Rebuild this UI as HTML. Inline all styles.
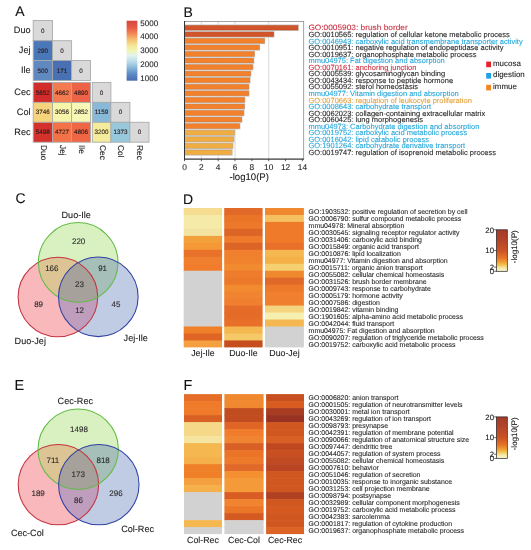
<!DOCTYPE html>
<html><head><meta charset="utf-8"><style>
html,body{margin:0;padding:0;background:#fff;}
body{width:531px;height:550px;overflow:hidden;}
svg{display:block;font-family:"Liberation Sans", sans-serif;text-rendering:geometricPrecision;will-change:transform;}
text{stroke-width:0.1px;}
</style></head><body>
<svg width="531" height="550" viewBox="0 0 531 550">
<rect width="531" height="550" fill="#fff"/>
<g>
<text transform="translate(15.30,16.40) skewX(0.06)" font-size="14" fill="#111" stroke="#111" text-anchor="start" >A</text>
<text transform="translate(183.50,17.20) skewX(0.06)" font-size="14" fill="#111" stroke="#111" text-anchor="start" >B</text>
<text transform="translate(15.60,203.20) skewX(0.06)" font-size="14" fill="#111" stroke="#111" text-anchor="start" >C</text>
<text transform="translate(182.90,203.60) skewX(0.06)" font-size="14" fill="#111" stroke="#111" text-anchor="start" >D</text>
<text transform="translate(14.60,389.90) skewX(0.06)" font-size="14.4" fill="#111" stroke="#111" text-anchor="start" >E</text>
<text transform="translate(183.60,389.80) skewX(0.06)" font-size="14.4" fill="#111" stroke="#111" text-anchor="start" >F</text>
<rect x="33.20" y="20.50" width="19.30" height="20.20" fill="#d9d9d9" stroke="#ababab" stroke-width="0.9"/>
<text transform="translate(42.85,32.70) skewX(0.06)" font-size="6.3" fill="#2a1a1a" stroke="#2a1a1a" text-anchor="middle" >0</text>
<rect x="33.20" y="40.70" width="19.30" height="19.80" fill="#4a77b8" stroke="#ababab" stroke-width="0.9"/>
<text transform="translate(42.85,52.70) skewX(0.06)" font-size="6.3" fill="#2a1a1a" stroke="#2a1a1a" text-anchor="middle" >290</text>
<rect x="52.50" y="40.70" width="19.10" height="19.80" fill="#d9d9d9" stroke="#ababab" stroke-width="0.9"/>
<text transform="translate(62.05,52.70) skewX(0.06)" font-size="6.3" fill="#2a1a1a" stroke="#2a1a1a" text-anchor="middle" >0</text>
<rect x="33.20" y="60.50" width="19.30" height="20.00" fill="#6089c2" stroke="#ababab" stroke-width="0.9"/>
<text transform="translate(42.85,72.60) skewX(0.06)" font-size="6.3" fill="#2a1a1a" stroke="#2a1a1a" text-anchor="middle" >500</text>
<rect x="52.50" y="60.50" width="19.10" height="20.00" fill="#4a70b4" stroke="#ababab" stroke-width="0.9"/>
<text transform="translate(62.05,72.60) skewX(0.06)" font-size="6.3" fill="#2a1a1a" stroke="#2a1a1a" text-anchor="middle" >171</text>
<rect x="71.60" y="60.50" width="18.90" height="20.00" fill="#d9d9d9" stroke="#ababab" stroke-width="0.9"/>
<text transform="translate(81.05,72.60) skewX(0.06)" font-size="6.3" fill="#2a1a1a" stroke="#2a1a1a" text-anchor="middle" >0</text>
<rect x="33.20" y="82.50" width="19.30" height="19.90" fill="#d22c2b" stroke="#ababab" stroke-width="0.9"/>
<text transform="translate(42.85,94.55) skewX(0.06)" font-size="6.3" fill="#2a1a1a" stroke="#2a1a1a" text-anchor="middle" >5652</text>
<rect x="52.50" y="82.50" width="19.10" height="19.90" fill="#f47a4f" stroke="#ababab" stroke-width="0.9"/>
<text transform="translate(62.05,94.55) skewX(0.06)" font-size="6.3" fill="#2a1a1a" stroke="#2a1a1a" text-anchor="middle" >4662</text>
<rect x="71.60" y="82.50" width="18.90" height="19.90" fill="#ee6247" stroke="#ababab" stroke-width="0.9"/>
<text transform="translate(81.05,94.55) skewX(0.06)" font-size="6.3" fill="#2a1a1a" stroke="#2a1a1a" text-anchor="middle" >4890</text>
<rect x="92.30" y="82.50" width="18.60" height="19.90" fill="#d9d9d9" stroke="#ababab" stroke-width="0.9"/>
<text transform="translate(101.60,94.55) skewX(0.06)" font-size="6.3" fill="#2a1a1a" stroke="#2a1a1a" text-anchor="middle" >0</text>
<rect x="33.20" y="102.40" width="19.30" height="19.90" fill="#f6d47c" stroke="#ababab" stroke-width="0.9"/>
<text transform="translate(42.85,114.45) skewX(0.06)" font-size="6.3" fill="#2a1a1a" stroke="#2a1a1a" text-anchor="middle" >3746</text>
<rect x="52.50" y="102.40" width="19.10" height="19.90" fill="#f6f5aa" stroke="#ababab" stroke-width="0.9"/>
<text transform="translate(62.05,114.45) skewX(0.06)" font-size="6.3" fill="#2a1a1a" stroke="#2a1a1a" text-anchor="middle" >3056</text>
<rect x="71.60" y="102.40" width="18.90" height="19.90" fill="#f7f7b6" stroke="#ababab" stroke-width="0.9"/>
<text transform="translate(81.05,114.45) skewX(0.06)" font-size="6.3" fill="#2a1a1a" stroke="#2a1a1a" text-anchor="middle" >2852</text>
<rect x="92.30" y="102.40" width="18.60" height="19.90" fill="#88b9d8" stroke="#ababab" stroke-width="0.9"/>
<text transform="translate(101.60,114.45) skewX(0.06)" font-size="6.3" fill="#2a1a1a" stroke="#2a1a1a" text-anchor="middle" >1159</text>
<rect x="110.90" y="102.40" width="19.00" height="19.90" fill="#d9d9d9" stroke="#ababab" stroke-width="0.9"/>
<text transform="translate(120.40,114.45) skewX(0.06)" font-size="6.3" fill="#2a1a1a" stroke="#2a1a1a" text-anchor="middle" >0</text>
<rect x="33.20" y="122.30" width="19.30" height="19.90" fill="#d4302c" stroke="#ababab" stroke-width="0.9"/>
<text transform="translate(42.85,134.35) skewX(0.06)" font-size="6.3" fill="#2a1a1a" stroke="#2a1a1a" text-anchor="middle" >5498</text>
<rect x="52.50" y="122.30" width="19.10" height="19.90" fill="#f47248" stroke="#ababab" stroke-width="0.9"/>
<text transform="translate(62.05,134.35) skewX(0.06)" font-size="6.3" fill="#2a1a1a" stroke="#2a1a1a" text-anchor="middle" >4727</text>
<rect x="71.60" y="122.30" width="18.90" height="19.90" fill="#f06644" stroke="#ababab" stroke-width="0.9"/>
<text transform="translate(81.05,134.35) skewX(0.06)" font-size="6.3" fill="#2a1a1a" stroke="#2a1a1a" text-anchor="middle" >4806</text>
<rect x="92.30" y="122.30" width="18.60" height="19.90" fill="#f4ec9a" stroke="#ababab" stroke-width="0.9"/>
<text transform="translate(101.60,134.35) skewX(0.06)" font-size="6.3" fill="#2a1a1a" stroke="#2a1a1a" text-anchor="middle" >3200</text>
<rect x="110.90" y="122.30" width="19.00" height="19.90" fill="#98c8dc" stroke="#ababab" stroke-width="0.9"/>
<text transform="translate(120.40,134.35) skewX(0.06)" font-size="6.3" fill="#2a1a1a" stroke="#2a1a1a" text-anchor="middle" >1373</text>
<rect x="129.90" y="122.30" width="19.10" height="19.90" fill="#d9d9d9" stroke="#ababab" stroke-width="0.9"/>
<text transform="translate(139.45,134.35) skewX(0.06)" font-size="6.3" fill="#2a1a1a" stroke="#2a1a1a" text-anchor="middle" >0</text>
<text transform="translate(30.60,33.40) skewX(0.06)" font-size="9.2" fill="#222" stroke="#222" text-anchor="end" >Duo</text>
<text transform="translate(30.60,53.40) skewX(0.06)" font-size="9.2" fill="#222" stroke="#222" text-anchor="end" >Jej</text>
<text transform="translate(30.60,73.30) skewX(0.06)" font-size="9.2" fill="#222" stroke="#222" text-anchor="end" >Ile</text>
<text transform="translate(30.60,95.25) skewX(0.06)" font-size="9.2" fill="#222" stroke="#222" text-anchor="end" >Cec</text>
<text transform="translate(30.60,115.15) skewX(0.06)" font-size="9.2" fill="#222" stroke="#222" text-anchor="end" >Col</text>
<text transform="translate(30.60,135.05) skewX(0.06)" font-size="9.2" fill="#222" stroke="#222" text-anchor="end" >Rec</text>
<text transform="translate(40.75,145.0) rotate(90) skewX(0.06)" x="0" y="0" font-size="8.4" fill="#222" stroke="#222">Duo</text>
<text transform="translate(59.95,145.0) rotate(90) skewX(0.06)" x="0" y="0" font-size="8.4" fill="#222" stroke="#222">Jej</text>
<text transform="translate(78.95,145.0) rotate(90) skewX(0.06)" x="0" y="0" font-size="8.4" fill="#222" stroke="#222">Ile</text>
<text transform="translate(99.50,145.0) rotate(90) skewX(0.06)" x="0" y="0" font-size="8.4" fill="#222" stroke="#222">Cec</text>
<text transform="translate(118.30,145.0) rotate(90) skewX(0.06)" x="0" y="0" font-size="8.4" fill="#222" stroke="#222">Col</text>
<text transform="translate(137.35,145.0) rotate(90) skewX(0.06)" x="0" y="0" font-size="8.4" fill="#222" stroke="#222">Rec</text>
<defs><linearGradient id="rdylbu" x1="0" y1="0" x2="0" y2="1">
<stop offset="0" stop-color="#d4463f"/><stop offset="0.12" stop-color="#e65c46"/>
<stop offset="0.22" stop-color="#f48a58"/><stop offset="0.32" stop-color="#f6c272"/>
<stop offset="0.42" stop-color="#f3e898"/><stop offset="0.5" stop-color="#f2f4b2"/>
<stop offset="0.58" stop-color="#e2f2ee"/><stop offset="0.68" stop-color="#bcdcec"/>
<stop offset="0.78" stop-color="#8ab8d8"/><stop offset="0.9" stop-color="#5a86c2"/>
<stop offset="1" stop-color="#4a6cb0"/></linearGradient></defs>
<rect x="126.60" y="20.70" width="10.80" height="60.00" fill="url(#rdylbu)" />
<text transform="translate(140.30,25.70) skewX(0.06)" font-size="8.0" fill="#222" stroke="#222" text-anchor="start" >5000</text>
<text transform="translate(140.30,39.40) skewX(0.06)" font-size="8.0" fill="#222" stroke="#222" text-anchor="start" >4000</text>
<text transform="translate(140.30,53.10) skewX(0.06)" font-size="8.0" fill="#222" stroke="#222" text-anchor="start" >3000</text>
<text transform="translate(140.30,66.80) skewX(0.06)" font-size="8.0" fill="#222" stroke="#222" text-anchor="start" >2000</text>
<text transform="translate(140.30,80.50) skewX(0.06)" font-size="8.0" fill="#222" stroke="#222" text-anchor="start" >1000</text>
<line x1="201.34" y1="21.4" x2="201.34" y2="159" stroke="#cfcfcf" stroke-width="0.8"/>
<line x1="218.18" y1="21.4" x2="218.18" y2="159" stroke="#cfcfcf" stroke-width="0.8"/>
<line x1="235.02" y1="21.4" x2="235.02" y2="159" stroke="#cfcfcf" stroke-width="0.8"/>
<line x1="268.70" y1="21.4" x2="268.70" y2="159" stroke="#cfcfcf" stroke-width="0.8"/>
<rect x="184.50" y="24.50" width="114.27" height="6.50" fill="#cac6c3" />
<rect x="184.50" y="25.50" width="113.47" height="4.50" fill="#d2542a" stroke="#b94620" stroke-width="0.4"/>
<rect x="184.50" y="31.06" width="90.02" height="6.50" fill="#cac6c3" />
<rect x="184.50" y="32.06" width="89.22" height="4.50" fill="#d2542a" stroke="#b94620" stroke-width="0.4"/>
<rect x="184.50" y="37.62" width="80.59" height="6.50" fill="#cac6c3" />
<rect x="184.50" y="38.62" width="79.79" height="4.50" fill="#f3812c" stroke="#d86d22" stroke-width="0.4"/>
<rect x="184.50" y="44.18" width="75.54" height="6.50" fill="#cac6c3" />
<rect x="184.50" y="45.18" width="74.74" height="4.50" fill="#f3812c" stroke="#d86d22" stroke-width="0.4"/>
<rect x="184.50" y="50.74" width="70.49" height="6.50" fill="#cac6c3" />
<rect x="184.50" y="51.74" width="69.69" height="4.50" fill="#f3812c" stroke="#d86d22" stroke-width="0.4"/>
<rect x="184.50" y="57.30" width="69.81" height="6.50" fill="#cac6c3" />
<rect x="184.50" y="58.30" width="69.01" height="4.50" fill="#f3812c" stroke="#d86d22" stroke-width="0.4"/>
<rect x="184.50" y="63.86" width="68.97" height="6.50" fill="#cac6c3" />
<rect x="184.50" y="64.86" width="68.17" height="4.50" fill="#f3812c" stroke="#d86d22" stroke-width="0.4"/>
<rect x="184.50" y="70.42" width="66.87" height="6.50" fill="#cac6c3" />
<rect x="184.50" y="71.42" width="66.07" height="4.50" fill="#f3812c" stroke="#d86d22" stroke-width="0.4"/>
<rect x="184.50" y="76.98" width="66.11" height="6.50" fill="#cac6c3" />
<rect x="184.50" y="77.98" width="65.31" height="4.50" fill="#f3812c" stroke="#d86d22" stroke-width="0.4"/>
<rect x="184.50" y="83.54" width="65.01" height="6.50" fill="#cac6c3" />
<rect x="184.50" y="84.54" width="64.21" height="4.50" fill="#f3812c" stroke="#d86d22" stroke-width="0.4"/>
<rect x="184.50" y="90.10" width="65.01" height="6.50" fill="#cac6c3" />
<rect x="184.50" y="91.10" width="64.21" height="4.50" fill="#f3812c" stroke="#d86d22" stroke-width="0.4"/>
<rect x="184.50" y="96.66" width="60.80" height="6.50" fill="#cac6c3" />
<rect x="184.50" y="97.66" width="60.00" height="4.50" fill="#f3812c" stroke="#d86d22" stroke-width="0.4"/>
<rect x="184.50" y="103.22" width="60.55" height="6.50" fill="#cac6c3" />
<rect x="184.50" y="104.22" width="59.75" height="4.50" fill="#f3812c" stroke="#d86d22" stroke-width="0.4"/>
<rect x="184.50" y="109.78" width="59.96" height="6.50" fill="#cac6c3" />
<rect x="184.50" y="110.78" width="59.16" height="4.50" fill="#f3812c" stroke="#d86d22" stroke-width="0.4"/>
<rect x="184.50" y="116.34" width="57.86" height="6.50" fill="#cac6c3" />
<rect x="184.50" y="117.34" width="57.06" height="4.50" fill="#f3812c" stroke="#d86d22" stroke-width="0.4"/>
<rect x="184.50" y="122.90" width="55.92" height="6.50" fill="#cac6c3" />
<rect x="184.50" y="123.90" width="55.12" height="4.50" fill="#f3812c" stroke="#d86d22" stroke-width="0.4"/>
<rect x="184.50" y="129.46" width="50.53" height="6.50" fill="#cac6c3" />
<rect x="184.50" y="130.46" width="49.73" height="4.50" fill="#f0ad42" stroke="#d8973a" stroke-width="0.4"/>
<rect x="184.50" y="136.02" width="50.03" height="6.50" fill="#cac6c3" />
<rect x="184.50" y="137.02" width="49.23" height="4.50" fill="#f0ad42" stroke="#d8973a" stroke-width="0.4"/>
<rect x="184.50" y="142.58" width="48.93" height="6.50" fill="#cac6c3" />
<rect x="184.50" y="143.58" width="48.13" height="4.50" fill="#f0ad42" stroke="#d8973a" stroke-width="0.4"/>
<rect x="184.50" y="149.14" width="48.17" height="6.50" fill="#cac6c3" />
<rect x="184.50" y="150.14" width="47.37" height="4.50" fill="#f0ad42" stroke="#d8973a" stroke-width="0.4"/>
<rect x="184.5" y="21.4" width="119.2" height="137.7" fill="none" stroke="#8a8a8a" stroke-width="0.8"/>
<line x1="184.5" y1="21" x2="184.5" y2="159.6" stroke="#333" stroke-width="1"/>
<line x1="184" y1="159.1" x2="304" y2="159.1" stroke="#333" stroke-width="1"/>
<line x1="184.50" y1="159.1" x2="184.50" y2="161.2" stroke="#333" stroke-width="0.8"/>
<text transform="translate(184.50,169.80) skewX(0.06)" font-size="8.3" fill="#222" stroke="#222" text-anchor="middle" >0</text>
<line x1="201.34" y1="159.1" x2="201.34" y2="161.2" stroke="#333" stroke-width="0.8"/>
<text transform="translate(201.34,169.80) skewX(0.06)" font-size="8.3" fill="#222" stroke="#222" text-anchor="middle" >2</text>
<line x1="218.18" y1="159.1" x2="218.18" y2="161.2" stroke="#333" stroke-width="0.8"/>
<text transform="translate(218.18,169.80) skewX(0.06)" font-size="8.3" fill="#222" stroke="#222" text-anchor="middle" >4</text>
<line x1="235.02" y1="159.1" x2="235.02" y2="161.2" stroke="#333" stroke-width="0.8"/>
<text transform="translate(235.02,169.80) skewX(0.06)" font-size="8.3" fill="#222" stroke="#222" text-anchor="middle" >6</text>
<line x1="251.86" y1="159.1" x2="251.86" y2="161.2" stroke="#333" stroke-width="0.8"/>
<text transform="translate(251.86,169.80) skewX(0.06)" font-size="8.3" fill="#222" stroke="#222" text-anchor="middle" >8</text>
<line x1="268.70" y1="159.1" x2="268.70" y2="161.2" stroke="#333" stroke-width="0.8"/>
<text transform="translate(268.70,169.80) skewX(0.06)" font-size="8.3" fill="#222" stroke="#222" text-anchor="middle" >10</text>
<line x1="285.54" y1="159.1" x2="285.54" y2="161.2" stroke="#333" stroke-width="0.8"/>
<text transform="translate(285.54,169.80) skewX(0.06)" font-size="8.3" fill="#222" stroke="#222" text-anchor="middle" >12</text>
<line x1="302.38" y1="159.1" x2="302.38" y2="161.2" stroke="#333" stroke-width="0.8"/>
<text transform="translate(302.38,169.80) skewX(0.06)" font-size="8.3" fill="#222" stroke="#222" text-anchor="middle" >14</text>
<text transform="translate(249.20,180.30) skewX(0.06)" font-size="9.6" fill="#222" stroke="#222" text-anchor="middle" >-log10(P)</text>
<text transform="translate(308.4,30.0) scale(1.065,1) skewX(0.06)" font-size="7.8" fill="#cc3344" stroke="#cc3344">GO:0005903: brush border</text>
<text transform="translate(308.40,37.05) skewX(0.06)" font-size="7.5" fill="#2a2a2a" stroke="#2a2a2a" text-anchor="start" >GO:0010565: regulation of cellular ketone metabolic process</text>
<text transform="translate(308.40,43.60) skewX(0.06)" font-size="7.5" fill="#26a8dc" stroke="#26a8dc" text-anchor="start" >GO:0046943: carboxylic acid transmembrane transporter activity</text>
<text transform="translate(308.40,50.15) skewX(0.06)" font-size="7.5" fill="#2a2a2a" stroke="#2a2a2a" text-anchor="start" >GO:0010951: negative regulation of endopeptidase activity</text>
<text transform="translate(308.40,56.70) skewX(0.06)" font-size="7.5" fill="#2a2a2a" stroke="#2a2a2a" text-anchor="start" >GO:0019637: organophosphate metabolic process</text>
<text transform="translate(308.40,63.25) skewX(0.06)" font-size="7.5" fill="#26a8dc" stroke="#26a8dc" text-anchor="start" >mmu04975: Fat digestion and absorption</text>
<text transform="translate(308.40,69.80) skewX(0.06)" font-size="7.5" fill="#cc3344" stroke="#cc3344" text-anchor="start" >GO:0070161: anchoring junction</text>
<text transform="translate(308.40,76.35) skewX(0.06)" font-size="7.5" fill="#2a2a2a" stroke="#2a2a2a" text-anchor="start" >GO:0005539: glycosaminoglycan binding</text>
<text transform="translate(308.40,82.90) skewX(0.06)" font-size="7.5" fill="#2a2a2a" stroke="#2a2a2a" text-anchor="start" >GO:0043434: response to peptide hormone</text>
<text transform="translate(308.40,89.45) skewX(0.06)" font-size="7.5" fill="#2a2a2a" stroke="#2a2a2a" text-anchor="start" >GO:0055092: sterol homeostasis</text>
<text transform="translate(308.40,96.00) skewX(0.06)" font-size="7.5" fill="#26a8dc" stroke="#26a8dc" text-anchor="start" >mmu04977: Vitamin digestion and absorption</text>
<text transform="translate(308.40,102.55) skewX(0.06)" font-size="7.5" fill="#e3a443" stroke="#e3a443" text-anchor="start" >GO:0070663: regulation of leukocyte proliferation</text>
<text transform="translate(308.40,109.10) skewX(0.06)" font-size="7.5" fill="#26a8dc" stroke="#26a8dc" text-anchor="start" >GO:0008643: carbohydrate transport</text>
<text transform="translate(308.40,115.65) skewX(0.06)" font-size="7.5" fill="#2a2a2a" stroke="#2a2a2a" text-anchor="start" >GO:0062023: collagen-containing extracellular matrix</text>
<text transform="translate(308.40,122.20) skewX(0.06)" font-size="7.5" fill="#2a2a2a" stroke="#2a2a2a" text-anchor="start" >GO:0060425: lung morphogenesis</text>
<text transform="translate(308.40,128.75) skewX(0.06)" font-size="7.5" fill="#26a8dc" stroke="#26a8dc" text-anchor="start" >mmu04973: Carbohydrate digestion and absorption</text>
<text transform="translate(308.40,135.30) skewX(0.06)" font-size="7.5" fill="#26a8dc" stroke="#26a8dc" text-anchor="start" >GO:0019752: carboxylic acid metabolic process</text>
<text transform="translate(308.40,141.85) skewX(0.06)" font-size="7.5" fill="#26a8dc" stroke="#26a8dc" text-anchor="start" >GO:0016042: lipid catabolic process</text>
<text transform="translate(308.40,148.40) skewX(0.06)" font-size="7.5" fill="#26a8dc" stroke="#26a8dc" text-anchor="start" >GO:1901264: carbohydrate derivative transport</text>
<text transform="translate(308.40,154.95) skewX(0.06)" font-size="7.5" fill="#2a2a2a" stroke="#2a2a2a" text-anchor="start" >GO:0019747: regulation of isoprenoid metabolic process</text>
<rect x="486.20" y="61.60" width="4.80" height="5.60" fill="#e8202a" />
<text transform="translate(493.00,65.90) skewX(0.06)" font-size="7.95" fill="#222" stroke="#222" text-anchor="start" >mucosa</text>
<rect x="486.20" y="73.00" width="4.80" height="5.60" fill="#1ba1e6" />
<text transform="translate(493.00,77.00) skewX(0.06)" font-size="7.95" fill="#222" stroke="#222" text-anchor="start" >digestion</text>
<rect x="486.20" y="84.80" width="4.80" height="5.60" fill="#f5841f" />
<text transform="translate(493.00,89.00) skewX(0.06)" font-size="7.95" fill="#222" stroke="#222" text-anchor="start" >immue</text>
<defs>
<clipPath id="ccr"><circle cx="57.9" cy="297.0" r="39.8"/></clipPath>
<clipPath id="ccg"><circle cx="78.2" cy="262.4" r="39.8"/></clipPath>
<clipPath id="ccrg" clip-path="url(#ccr)"><circle cx="78.2" cy="262.4" r="39.8"/></clipPath>
</defs>
<circle cx="57.9" cy="297.0" r="39.8" fill="#f8b8bc"/>
<circle cx="78.2" cy="262.4" r="39.8" fill="#d9f0c0"/>
<circle cx="98.3" cy="296.8" r="39.8" fill="#c0cbe4"/>
<circle cx="78.2" cy="262.4" r="39.8" fill="#dcc494" clip-path="url(#ccr)"/>
<circle cx="98.3" cy="296.8" r="39.8" fill="#a6bfb9" clip-path="url(#ccg)"/>
<circle cx="98.3" cy="296.8" r="39.8" fill="#bf9dbd" clip-path="url(#ccr)"/>
<circle cx="98.3" cy="296.8" r="39.8" fill="#a6a19b" clip-path="url(#ccrg)"/>
<circle cx="57.9" cy="297.0" r="39.8" fill="none" stroke="#c2343f" stroke-width="1.05"/>
<circle cx="78.2" cy="262.4" r="39.8" fill="none" stroke="#62bc44" stroke-width="1.05"/>
<circle cx="98.3" cy="296.8" r="39.8" fill="none" stroke="#3040a4" stroke-width="1.05"/>
<text transform="translate(76.20,217.90) skewX(0.06)" font-size="9.1" fill="#222" stroke="#222" text-anchor="middle" >Duo-Ile</text>
<text transform="translate(14.60,344.00) skewX(0.06)" font-size="9.1" fill="#222" stroke="#222" text-anchor="start" >Duo-Jej</text>
<text transform="translate(123.60,341.00) skewX(0.06)" font-size="9.1" fill="#222" stroke="#222" text-anchor="start" >Jej-Ile</text>
<text transform="translate(78.60,243.70) skewX(0.06)" font-size="8.0" fill="#2a2a2a" stroke="#2a2a2a" text-anchor="middle" >220</text>
<text transform="translate(51.80,271.20) skewX(0.06)" font-size="8.0" fill="#2a2a2a" stroke="#2a2a2a" text-anchor="middle" >166</text>
<text transform="translate(102.60,271.20) skewX(0.06)" font-size="8.0" fill="#2a2a2a" stroke="#2a2a2a" text-anchor="middle" >91</text>
<text transform="translate(79.40,287.00) skewX(0.06)" font-size="8.0" fill="#2a2a2a" stroke="#2a2a2a" text-anchor="middle" >23</text>
<text transform="translate(38.60,307.00) skewX(0.06)" font-size="8.0" fill="#2a2a2a" stroke="#2a2a2a" text-anchor="middle" >89</text>
<text transform="translate(115.90,307.00) skewX(0.06)" font-size="8.0" fill="#2a2a2a" stroke="#2a2a2a" text-anchor="middle" >45</text>
<text transform="translate(79.60,312.90) skewX(0.06)" font-size="8.0" fill="#2a2a2a" stroke="#2a2a2a" text-anchor="middle" >12</text>
<defs>
<clipPath id="ecr"><circle cx="58.4" cy="484.6" r="40.2"/></clipPath>
<clipPath id="ecg"><circle cx="78.2" cy="449.3" r="40.2"/></clipPath>
<clipPath id="ecrg" clip-path="url(#ecr)"><circle cx="78.2" cy="449.3" r="40.2"/></clipPath>
</defs>
<circle cx="58.4" cy="484.6" r="40.2" fill="#f8b8bc"/>
<circle cx="78.2" cy="449.3" r="40.2" fill="#d9f0c0"/>
<circle cx="98.8" cy="484.6" r="40.2" fill="#c0cbe4"/>
<circle cx="78.2" cy="449.3" r="40.2" fill="#dcc494" clip-path="url(#ecr)"/>
<circle cx="98.8" cy="484.6" r="40.2" fill="#a6bfb9" clip-path="url(#ecg)"/>
<circle cx="98.8" cy="484.6" r="40.2" fill="#bf9dbd" clip-path="url(#ecr)"/>
<circle cx="98.8" cy="484.6" r="40.2" fill="#a6a19b" clip-path="url(#ecrg)"/>
<circle cx="58.4" cy="484.6" r="40.2" fill="none" stroke="#c2343f" stroke-width="1.05"/>
<circle cx="78.2" cy="449.3" r="40.2" fill="none" stroke="#62bc44" stroke-width="1.05"/>
<circle cx="98.8" cy="484.6" r="40.2" fill="none" stroke="#3040a4" stroke-width="1.05"/>
<text transform="translate(75.30,404.10) skewX(0.06)" font-size="9.1" fill="#222" stroke="#222" text-anchor="middle" >Cec-Rec</text>
<text transform="translate(10.90,535.70) skewX(0.06)" font-size="9.1" fill="#222" stroke="#222" text-anchor="start" >Cec-Col</text>
<text transform="translate(121.20,532.40) skewX(0.06)" font-size="9.1" fill="#222" stroke="#222" text-anchor="start" >Col-Rec</text>
<text transform="translate(79.00,432.20) skewX(0.06)" font-size="8.0" fill="#2a2a2a" stroke="#2a2a2a" text-anchor="middle" >1498</text>
<text transform="translate(52.90,462.60) skewX(0.06)" font-size="8.0" fill="#2a2a2a" stroke="#2a2a2a" text-anchor="middle" >711</text>
<text transform="translate(103.10,462.60) skewX(0.06)" font-size="8.0" fill="#2a2a2a" stroke="#2a2a2a" text-anchor="middle" >818</text>
<text transform="translate(78.20,477.00) skewX(0.06)" font-size="8.0" fill="#2a2a2a" stroke="#2a2a2a" text-anchor="middle" >173</text>
<text transform="translate(38.10,496.30) skewX(0.06)" font-size="8.0" fill="#2a2a2a" stroke="#2a2a2a" text-anchor="middle" >189</text>
<text transform="translate(116.00,496.30) skewX(0.06)" font-size="8.0" fill="#2a2a2a" stroke="#2a2a2a" text-anchor="middle" >296</text>
<text transform="translate(78.50,502.50) skewX(0.06)" font-size="8.0" fill="#2a2a2a" stroke="#2a2a2a" text-anchor="middle" >86</text>
<defs><linearGradient id="ylorrd" x1="0" y1="1" x2="0" y2="0">
<stop offset="0" stop-color="#f8f4d0"/><stop offset="0.08" stop-color="#f6eaa6"/>
<stop offset="0.15" stop-color="#f3c456"/><stop offset="0.22" stop-color="#f0a032"/>
<stop offset="0.32" stop-color="#e87428"/><stop offset="0.5" stop-color="#cc5224"/>
<stop offset="0.75" stop-color="#b4442a"/><stop offset="1" stop-color="#a43a28"/></linearGradient></defs>
<rect x="183.70" y="208.00" width="38.40" height="7.57" fill="#f5dc90" />
<rect x="183.70" y="214.97" width="38.40" height="7.57" fill="#f5eaa8" />
<rect x="183.70" y="221.94" width="38.40" height="7.57" fill="#f5eaa8" />
<rect x="183.70" y="228.91" width="38.40" height="7.57" fill="#f2e4a0" />
<rect x="183.70" y="235.88" width="38.40" height="7.57" fill="#f2a03c" />
<rect x="183.70" y="242.85" width="38.40" height="7.57" fill="#f59836" />
<rect x="183.70" y="249.82" width="38.40" height="7.57" fill="#e8722a" />
<rect x="183.70" y="256.79" width="38.40" height="7.57" fill="#f08030" />
<rect x="183.70" y="263.76" width="38.40" height="7.57" fill="#f07c2c" />
<rect x="183.70" y="270.73" width="38.40" height="7.57" fill="#d2d2d2" />
<rect x="183.70" y="277.70" width="38.40" height="7.57" fill="#d2d2d2" />
<rect x="183.70" y="284.67" width="38.40" height="7.57" fill="#d2d2d2" />
<rect x="183.70" y="291.64" width="38.40" height="7.57" fill="#d2d2d2" />
<rect x="183.70" y="298.61" width="38.40" height="7.57" fill="#d2d2d2" />
<rect x="183.70" y="305.58" width="38.40" height="7.57" fill="#d2d2d2" />
<rect x="183.70" y="312.55" width="38.40" height="7.57" fill="#d2d2d2" />
<rect x="183.70" y="319.52" width="38.40" height="7.57" fill="#d2d2d2" />
<rect x="183.70" y="326.49" width="38.40" height="7.57" fill="#f08028" />
<rect x="183.70" y="333.46" width="38.40" height="7.57" fill="#e06424" />
<rect x="183.70" y="340.43" width="38.40" height="6.97" fill="#f5a040" />
<rect x="224.20" y="208.00" width="38.40" height="7.57" fill="#e26a28" />
<rect x="224.20" y="214.97" width="38.40" height="7.57" fill="#ea7428" />
<rect x="224.20" y="221.94" width="38.40" height="7.57" fill="#ec782a" />
<rect x="224.20" y="228.91" width="38.40" height="7.57" fill="#dc6426" />
<rect x="224.20" y="235.88" width="38.40" height="7.57" fill="#ee7a2c" />
<rect x="224.20" y="242.85" width="38.40" height="7.57" fill="#dc6426" />
<rect x="224.20" y="249.82" width="38.40" height="7.57" fill="#f0802e" />
<rect x="224.20" y="256.79" width="38.40" height="7.57" fill="#f0822e" />
<rect x="224.20" y="263.76" width="38.40" height="7.57" fill="#f28a30" />
<rect x="224.20" y="270.73" width="38.40" height="7.57" fill="#ee7c2c" />
<rect x="224.20" y="277.70" width="38.40" height="7.57" fill="#ec782a" />
<rect x="224.20" y="284.67" width="38.40" height="7.57" fill="#f28a30" />
<rect x="224.20" y="291.64" width="38.40" height="7.57" fill="#f08430" />
<rect x="224.20" y="298.61" width="38.40" height="7.57" fill="#f08030" />
<rect x="224.20" y="305.58" width="38.40" height="7.57" fill="#e46c28" />
<rect x="224.20" y="312.55" width="38.40" height="7.57" fill="#e46c28" />
<rect x="224.20" y="319.52" width="38.40" height="7.57" fill="#e87028" />
<rect x="224.20" y="326.49" width="38.40" height="7.57" fill="#f5b850" />
<rect x="224.20" y="333.46" width="38.40" height="7.57" fill="#f5c868" />
<rect x="224.20" y="340.43" width="38.40" height="6.97" fill="#c64e1e" />
<rect x="265.00" y="208.00" width="38.90" height="7.57" fill="#f08830" />
<rect x="265.00" y="214.97" width="38.90" height="7.57" fill="#f5c060" />
<rect x="265.00" y="221.94" width="38.90" height="7.57" fill="#ee7a2a" />
<rect x="265.00" y="228.91" width="38.90" height="7.57" fill="#ee7a2a" />
<rect x="265.00" y="235.88" width="38.90" height="7.57" fill="#ee7a2a" />
<rect x="265.00" y="242.85" width="38.90" height="7.57" fill="#e87028" />
<rect x="265.00" y="249.82" width="38.90" height="7.57" fill="#f5b850" />
<rect x="265.00" y="256.79" width="38.90" height="7.57" fill="#f5b048" />
<rect x="265.00" y="263.76" width="38.90" height="7.57" fill="#f5d070" />
<rect x="265.00" y="270.73" width="38.90" height="7.57" fill="#f08830" />
<rect x="265.00" y="277.70" width="38.90" height="7.57" fill="#e06828" />
<rect x="265.00" y="284.67" width="38.90" height="7.57" fill="#ec7a2a" />
<rect x="265.00" y="291.64" width="38.90" height="7.57" fill="#f08030" />
<rect x="265.00" y="298.61" width="38.90" height="7.57" fill="#f08030" />
<rect x="265.00" y="305.58" width="38.90" height="7.57" fill="#f5d480" />
<rect x="265.00" y="312.55" width="38.90" height="7.57" fill="#f5f0b0" />
<rect x="265.00" y="319.52" width="38.90" height="7.57" fill="#f5b850" />
<rect x="265.00" y="326.49" width="38.90" height="7.57" fill="#d2d2d2" />
<rect x="265.00" y="333.46" width="38.90" height="7.57" fill="#d2d2d2" />
<rect x="265.00" y="340.43" width="38.90" height="6.97" fill="#d2d2d2" />
<text transform="translate(202.90,356.40) skewX(0.06)" font-size="8.8" fill="#222" stroke="#222" text-anchor="middle" >Jej-Ile</text>
<text transform="translate(243.40,356.40) skewX(0.06)" font-size="8.8" fill="#222" stroke="#222" text-anchor="middle" >Duo-Ile</text>
<text transform="translate(284.45,356.40) skewX(0.06)" font-size="8.8" fill="#222" stroke="#222" text-anchor="middle" >Duo-Jej</text>
<text transform="translate(308.60,213.80) skewX(0.06)" font-size="6.95" fill="#2a2a2a" stroke="#2a2a2a" text-anchor="start" >GO:1903532: positive regulation of secretion by cell</text>
<text transform="translate(308.60,220.83) skewX(0.06)" font-size="6.95" fill="#2a2a2a" stroke="#2a2a2a" text-anchor="start" >GO:0006790: sulfur compound metabolic process</text>
<text transform="translate(308.60,227.86) skewX(0.06)" font-size="6.95" fill="#2a2a2a" stroke="#2a2a2a" text-anchor="start" >mmu04978: Mineral absorption</text>
<text transform="translate(308.60,234.89) skewX(0.06)" font-size="6.95" fill="#2a2a2a" stroke="#2a2a2a" text-anchor="start" >GO:0030545: signaling receptor regulator activity</text>
<text transform="translate(308.60,241.92) skewX(0.06)" font-size="6.95" fill="#2a2a2a" stroke="#2a2a2a" text-anchor="start" >GO:0031406: carboxylic acid binding</text>
<text transform="translate(308.60,248.95) skewX(0.06)" font-size="6.95" fill="#2a2a2a" stroke="#2a2a2a" text-anchor="start" >GO:0015849: organic acid transport</text>
<text transform="translate(308.60,255.98) skewX(0.06)" font-size="6.95" fill="#2a2a2a" stroke="#2a2a2a" text-anchor="start" >GO:0010876: lipid localization</text>
<text transform="translate(308.60,263.01) skewX(0.06)" font-size="6.95" fill="#2a2a2a" stroke="#2a2a2a" text-anchor="start" >mmu04977: Vitamin digestion and absorption</text>
<text transform="translate(308.60,270.04) skewX(0.06)" font-size="6.95" fill="#2a2a2a" stroke="#2a2a2a" text-anchor="start" >GO:0015711: organic anion transport</text>
<text transform="translate(308.60,277.07) skewX(0.06)" font-size="6.95" fill="#2a2a2a" stroke="#2a2a2a" text-anchor="start" >GO:0055082: cellular chemical homeostasis</text>
<text transform="translate(308.60,284.10) skewX(0.06)" font-size="6.95" fill="#2a2a2a" stroke="#2a2a2a" text-anchor="start" >GO:0031526: brush border membrane</text>
<text transform="translate(308.60,291.13) skewX(0.06)" font-size="6.95" fill="#2a2a2a" stroke="#2a2a2a" text-anchor="start" >GO:0009743: response to carbohydrate</text>
<text transform="translate(308.60,298.16) skewX(0.06)" font-size="6.95" fill="#2a2a2a" stroke="#2a2a2a" text-anchor="start" >GO:0005179: hormone activity</text>
<text transform="translate(308.60,305.19) skewX(0.06)" font-size="6.95" fill="#2a2a2a" stroke="#2a2a2a" text-anchor="start" >GO:0007586: digestion</text>
<text transform="translate(308.60,312.22) skewX(0.06)" font-size="6.95" fill="#2a2a2a" stroke="#2a2a2a" text-anchor="start" >GO:0019842: vitamin binding</text>
<text transform="translate(308.60,319.25) skewX(0.06)" font-size="6.95" fill="#2a2a2a" stroke="#2a2a2a" text-anchor="start" >GO:1901605: alpha-amino acid metabolic process</text>
<text transform="translate(308.60,326.28) skewX(0.06)" font-size="6.95" fill="#2a2a2a" stroke="#2a2a2a" text-anchor="start" >GO:0042044: fluid transport</text>
<text transform="translate(308.60,333.31) skewX(0.06)" font-size="6.95" fill="#2a2a2a" stroke="#2a2a2a" text-anchor="start" >mmu04975: Fat digestion and absorption</text>
<text transform="translate(308.60,340.34) skewX(0.06)" font-size="6.95" fill="#2a2a2a" stroke="#2a2a2a" text-anchor="start" >GO:0090207: regulation of triglyceride metabolic process</text>
<text transform="translate(308.60,347.37) skewX(0.06)" font-size="6.95" fill="#2a2a2a" stroke="#2a2a2a" text-anchor="start" >GO:0019752: carboxylic acid metabolic process</text>
<rect x="496.40" y="229.80" width="10.90" height="41.50" fill="url(#ylorrd)" stroke="#222" stroke-width="0.7"/>
<line x1="494.2" y1="229.80" x2="496.4" y2="229.80" stroke="#222" stroke-width="0.7"/>
<text transform="translate(494.00,232.60) skewX(0.06)" font-size="7.8" fill="#222" stroke="#222" text-anchor="end" >20</text>
<line x1="494.2" y1="250.55" x2="496.4" y2="250.55" stroke="#222" stroke-width="0.7"/>
<text transform="translate(494.00,253.35) skewX(0.06)" font-size="7.8" fill="#222" stroke="#222" text-anchor="end" >10</text>
<line x1="494.2" y1="267.15" x2="496.4" y2="267.15" stroke="#222" stroke-width="0.7"/>
<text transform="translate(494.00,269.95) skewX(0.06)" font-size="7.8" fill="#222" stroke="#222" text-anchor="end" >2</text>
<line x1="494.2" y1="271.30" x2="496.4" y2="271.30" stroke="#222" stroke-width="0.7"/>
<text transform="translate(494.00,274.10) skewX(0.06)" font-size="7.8" fill="#222" stroke="#222" text-anchor="end" >0</text>
<text transform="translate(516.6,263.20) rotate(-90) skewX(0.06)" x="0" y="0" font-size="8" fill="#222" stroke="#222">-log10(P)</text>
<rect x="184.00" y="394.10" width="38.00" height="7.60" fill="#e46e28" />
<rect x="184.00" y="401.10" width="38.00" height="7.60" fill="#ee7a2a" />
<rect x="184.00" y="408.10" width="38.00" height="7.60" fill="#ee7a2a" />
<rect x="184.00" y="415.10" width="38.00" height="7.60" fill="#d86024" />
<rect x="184.00" y="422.10" width="38.00" height="7.60" fill="#f5d888" />
<rect x="184.00" y="429.10" width="38.00" height="7.60" fill="#f5d888" />
<rect x="184.00" y="436.10" width="38.00" height="7.60" fill="#f5e4a0" />
<rect x="184.00" y="443.10" width="38.00" height="7.60" fill="#f5b850" />
<rect x="184.00" y="450.10" width="38.00" height="7.60" fill="#f5b850" />
<rect x="184.00" y="457.10" width="38.00" height="7.60" fill="#f5b04c" />
<rect x="184.00" y="464.10" width="38.00" height="7.60" fill="#f08028" />
<rect x="184.00" y="471.10" width="38.00" height="7.60" fill="#f08028" />
<rect x="184.00" y="478.10" width="38.00" height="7.60" fill="#f5a040" />
<rect x="184.00" y="485.10" width="38.00" height="7.60" fill="#f5b04c" />
<rect x="184.00" y="492.10" width="38.00" height="7.60" fill="#d2d2d2" />
<rect x="184.00" y="499.10" width="38.00" height="7.60" fill="#d2d2d2" />
<rect x="184.00" y="506.10" width="38.00" height="7.60" fill="#d2d2d2" />
<rect x="184.00" y="513.10" width="38.00" height="7.60" fill="#d2d2d2" />
<rect x="184.00" y="520.10" width="38.00" height="7.60" fill="#f5b850" />
<rect x="184.00" y="527.10" width="38.00" height="7.00" fill="#d2d2d2" />
<rect x="224.40" y="394.10" width="39.20" height="7.60" fill="#f08830" />
<rect x="224.40" y="401.10" width="39.20" height="7.60" fill="#f08830" />
<rect x="224.40" y="408.10" width="39.20" height="7.60" fill="#c04c20" />
<rect x="224.40" y="415.10" width="39.20" height="7.60" fill="#c04c20" />
<rect x="224.40" y="422.10" width="39.20" height="7.60" fill="#e06424" />
<rect x="224.40" y="429.10" width="39.20" height="7.60" fill="#f07c2c" />
<rect x="224.40" y="436.10" width="39.20" height="7.60" fill="#f08430" />
<rect x="224.40" y="443.10" width="39.20" height="7.60" fill="#d86024" />
<rect x="224.40" y="450.10" width="39.20" height="7.60" fill="#ec7428" />
<rect x="224.40" y="457.10" width="39.20" height="7.60" fill="#ec7a2a" />
<rect x="224.40" y="464.10" width="39.20" height="7.60" fill="#e06828" />
<rect x="224.40" y="471.10" width="39.20" height="7.60" fill="#f59030" />
<rect x="224.40" y="478.10" width="39.20" height="7.60" fill="#f59a38" />
<rect x="224.40" y="485.10" width="39.20" height="7.60" fill="#f59a38" />
<rect x="224.40" y="492.10" width="39.20" height="7.60" fill="#d85c24" />
<rect x="224.40" y="499.10" width="39.20" height="7.60" fill="#f08430" />
<rect x="224.40" y="506.10" width="39.20" height="7.60" fill="#ec7628" />
<rect x="224.40" y="513.10" width="39.20" height="7.60" fill="#d45a22" />
<rect x="224.40" y="520.10" width="39.20" height="7.60" fill="#d2d2d2" />
<rect x="224.40" y="527.10" width="39.20" height="7.00" fill="#d2d2d2" />
<rect x="266.10" y="394.10" width="37.90" height="7.60" fill="#c85020" />
<rect x="266.10" y="401.10" width="37.90" height="7.60" fill="#d85c20" />
<rect x="266.10" y="408.10" width="37.90" height="7.60" fill="#a83c22" />
<rect x="266.10" y="415.10" width="37.90" height="7.60" fill="#983222" />
<rect x="266.10" y="422.10" width="37.90" height="7.60" fill="#d05820" />
<rect x="266.10" y="429.10" width="37.90" height="7.60" fill="#d05820" />
<rect x="266.10" y="436.10" width="37.90" height="7.60" fill="#d86024" />
<rect x="266.10" y="443.10" width="37.90" height="7.60" fill="#c04820" />
<rect x="266.10" y="450.10" width="37.90" height="7.60" fill="#c85020" />
<rect x="266.10" y="457.10" width="37.90" height="7.60" fill="#c04a22" />
<rect x="266.10" y="464.10" width="37.90" height="7.60" fill="#b84422" />
<rect x="266.10" y="471.10" width="37.90" height="7.60" fill="#d05820" />
<rect x="266.10" y="478.10" width="37.90" height="7.60" fill="#d05820" />
<rect x="266.10" y="485.10" width="37.90" height="7.60" fill="#d05820" />
<rect x="266.10" y="492.10" width="37.90" height="7.60" fill="#b04022" />
<rect x="266.10" y="499.10" width="37.90" height="7.60" fill="#d05820" />
<rect x="266.10" y="506.10" width="37.90" height="7.60" fill="#d45a20" />
<rect x="266.10" y="513.10" width="37.90" height="7.60" fill="#d05820" />
<rect x="266.10" y="520.10" width="37.90" height="7.60" fill="#d05820" />
<rect x="266.10" y="527.10" width="37.90" height="7.00" fill="#dc6424" />
<text transform="translate(203.00,542.90) skewX(0.06)" font-size="8.8" fill="#222" stroke="#222" text-anchor="middle" >Col-Rec</text>
<text transform="translate(244.00,542.90) skewX(0.06)" font-size="8.8" fill="#222" stroke="#222" text-anchor="middle" >Cec-Col</text>
<text transform="translate(285.05,542.90) skewX(0.06)" font-size="8.8" fill="#222" stroke="#222" text-anchor="middle" >Cec-Rec</text>
<text transform="translate(308.60,400.30) skewX(0.06)" font-size="6.95" fill="#2a2a2a" stroke="#2a2a2a" text-anchor="start" >GO:0006820: anion transport</text>
<text transform="translate(308.60,407.30) skewX(0.06)" font-size="6.95" fill="#2a2a2a" stroke="#2a2a2a" text-anchor="start" >GO:0001505: regulation of neurotransmitter levels</text>
<text transform="translate(308.60,414.30) skewX(0.06)" font-size="6.95" fill="#2a2a2a" stroke="#2a2a2a" text-anchor="start" >GO:0030001: metal ion transport</text>
<text transform="translate(308.60,421.30) skewX(0.06)" font-size="6.95" fill="#2a2a2a" stroke="#2a2a2a" text-anchor="start" >GO:0043269: regulation of ion transport</text>
<text transform="translate(308.60,428.30) skewX(0.06)" font-size="6.95" fill="#2a2a2a" stroke="#2a2a2a" text-anchor="start" >GO:0098793: presynapse</text>
<text transform="translate(308.60,435.30) skewX(0.06)" font-size="6.95" fill="#2a2a2a" stroke="#2a2a2a" text-anchor="start" >GO:0042391: regulation of membrane potential</text>
<text transform="translate(308.60,442.30) skewX(0.06)" font-size="6.95" fill="#2a2a2a" stroke="#2a2a2a" text-anchor="start" >GO:0090066: regulation of anatomical structure size</text>
<text transform="translate(308.60,449.30) skewX(0.06)" font-size="6.95" fill="#2a2a2a" stroke="#2a2a2a" text-anchor="start" >GO:0097447: dendritic tree</text>
<text transform="translate(308.60,456.30) skewX(0.06)" font-size="6.95" fill="#2a2a2a" stroke="#2a2a2a" text-anchor="start" >GO:0044057: regulation of system process</text>
<text transform="translate(308.60,463.30) skewX(0.06)" font-size="6.95" fill="#2a2a2a" stroke="#2a2a2a" text-anchor="start" >GO:0055082: cellular chemical homeostasis</text>
<text transform="translate(308.60,470.30) skewX(0.06)" font-size="6.95" fill="#2a2a2a" stroke="#2a2a2a" text-anchor="start" >GO:0007610: behavior</text>
<text transform="translate(308.60,477.30) skewX(0.06)" font-size="6.95" fill="#2a2a2a" stroke="#2a2a2a" text-anchor="start" >GO:0051046: regulation of secretion</text>
<text transform="translate(308.60,484.30) skewX(0.06)" font-size="6.95" fill="#2a2a2a" stroke="#2a2a2a" text-anchor="start" >GO:0010035: response to inorganic substance</text>
<text transform="translate(308.60,491.30) skewX(0.06)" font-size="6.95" fill="#2a2a2a" stroke="#2a2a2a" text-anchor="start" >GO:0031253: cell projection membrane</text>
<text transform="translate(308.60,498.30) skewX(0.06)" font-size="6.95" fill="#2a2a2a" stroke="#2a2a2a" text-anchor="start" >GO:0098794: postsynapse</text>
<text transform="translate(308.60,505.30) skewX(0.06)" font-size="6.95" fill="#2a2a2a" stroke="#2a2a2a" text-anchor="start" >GO:0032989: cellular component morphogenesis</text>
<text transform="translate(308.60,512.30) skewX(0.06)" font-size="6.95" fill="#2a2a2a" stroke="#2a2a2a" text-anchor="start" >GO:0019752: carboxylic acid metabolic process</text>
<text transform="translate(308.60,519.30) skewX(0.06)" font-size="6.95" fill="#2a2a2a" stroke="#2a2a2a" text-anchor="start" >GO:0042383: sarcolemma</text>
<text transform="translate(308.60,526.30) skewX(0.06)" font-size="6.95" fill="#2a2a2a" stroke="#2a2a2a" text-anchor="start" >GO:0001817: regulation of cytokine production</text>
<text transform="translate(308.60,533.30) skewX(0.06)" font-size="6.95" fill="#2a2a2a" stroke="#2a2a2a" text-anchor="start" >GO:0019637: organophosphate metabolic process</text>
<rect x="496.40" y="416.90" width="10.90" height="41.50" fill="url(#ylorrd)" stroke="#222" stroke-width="0.7"/>
<line x1="494.2" y1="416.90" x2="496.4" y2="416.90" stroke="#222" stroke-width="0.7"/>
<text transform="translate(494.00,419.70) skewX(0.06)" font-size="7.8" fill="#222" stroke="#222" text-anchor="end" >20</text>
<line x1="494.2" y1="437.65" x2="496.4" y2="437.65" stroke="#222" stroke-width="0.7"/>
<text transform="translate(494.00,440.45) skewX(0.06)" font-size="7.8" fill="#222" stroke="#222" text-anchor="end" >10</text>
<line x1="494.2" y1="454.25" x2="496.4" y2="454.25" stroke="#222" stroke-width="0.7"/>
<text transform="translate(494.00,457.05) skewX(0.06)" font-size="7.8" fill="#222" stroke="#222" text-anchor="end" >2</text>
<line x1="494.2" y1="458.40" x2="496.4" y2="458.40" stroke="#222" stroke-width="0.7"/>
<text transform="translate(494.00,461.20) skewX(0.06)" font-size="7.8" fill="#222" stroke="#222" text-anchor="end" >0</text>
<text transform="translate(516.6,450.30) rotate(-90) skewX(0.06)" x="0" y="0" font-size="8" fill="#222" stroke="#222">-log10(P)</text>
</g>
</svg>
</body></html>
